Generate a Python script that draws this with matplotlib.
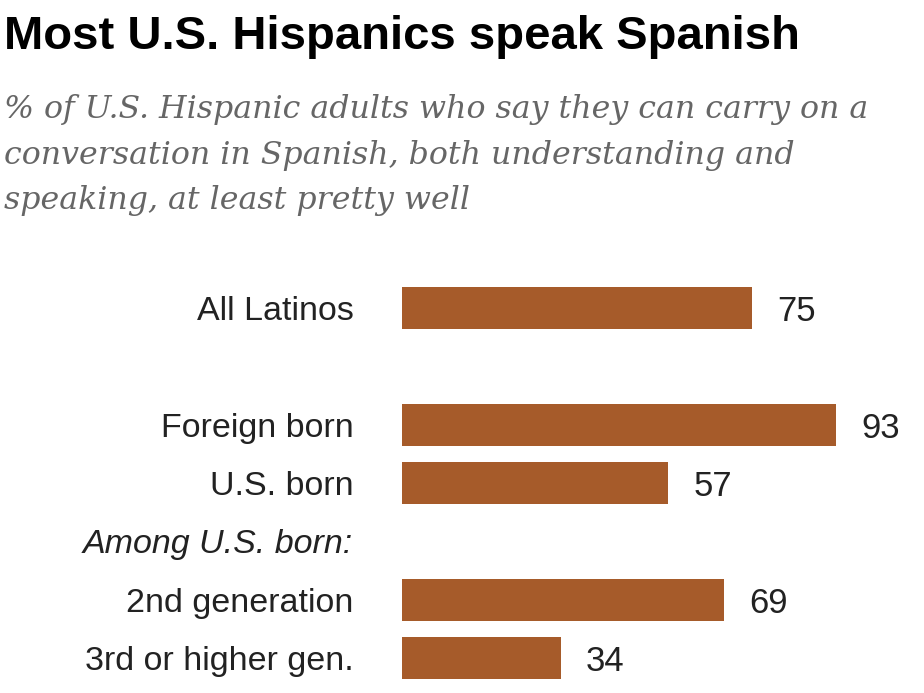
import matplotlib.pyplot as plt

# data
categorias = ["All Latinos", "Foreign born", "U.S. born", "2nd generation", "3rd or higher gen."]
valores = [75, 93, 57, 69, 34]
filas = [0, 2, 3, 5, 6]
nota_fila = 4
nota = "Among U.S. born:"

titulo = "Most U.S. Hispanics speak Spanish"
subtitulo = ("% of U.S. Hispanic adults who say they can carry on a\n"
             "conversation in Spanish, both understanding and\n"
             "speaking, at least pretty well")

color_barra = "#A65B2A"

plt.rcParams['font.family'] = ['Liberation Sans', 'DejaVu Sans']

fig = plt.figure(figsize=(9.24, 6.93), dpi=100)
fig.text(0.004, 0.979, titulo, fontsize=34, fontweight='bold',
         va='top', ha='left', color='black')
fig.text(0.004, 0.864, subtitulo, fontsize=22.8, style='italic',
         family=['DejaVu Serif'], va='top', ha='left',
         color='#666666', linespacing=1.6)

ax = fig.add_axes([402 / 924, 1 - 687 / 693, 466.7 / 924, 408 / 693])
ax.barh(filas, valores, height=0.72, color=color_barra)
for f, v in zip(filas, valores):
    ax.text(v + 5.4, f, str(v), va='center_baseline', ha='left', fontsize=25, color='#222222')

ax.set_xlim(0, 100)
ax.set_ylim(6.5, -0.5)
ax.set_yticks(filas + [nota_fila])
ax.set_yticklabels(categorias + [nota], fontsize=24.5, color='#222222')
ax.get_yticklabels()[-1].set_style('italic')
ax.tick_params(axis='y', length=0, pad=35)
ax.set_xticks([])
for s in ax.spines.values():
    s.set_visible(False)

fig.savefig("out.png", dpi=100)
